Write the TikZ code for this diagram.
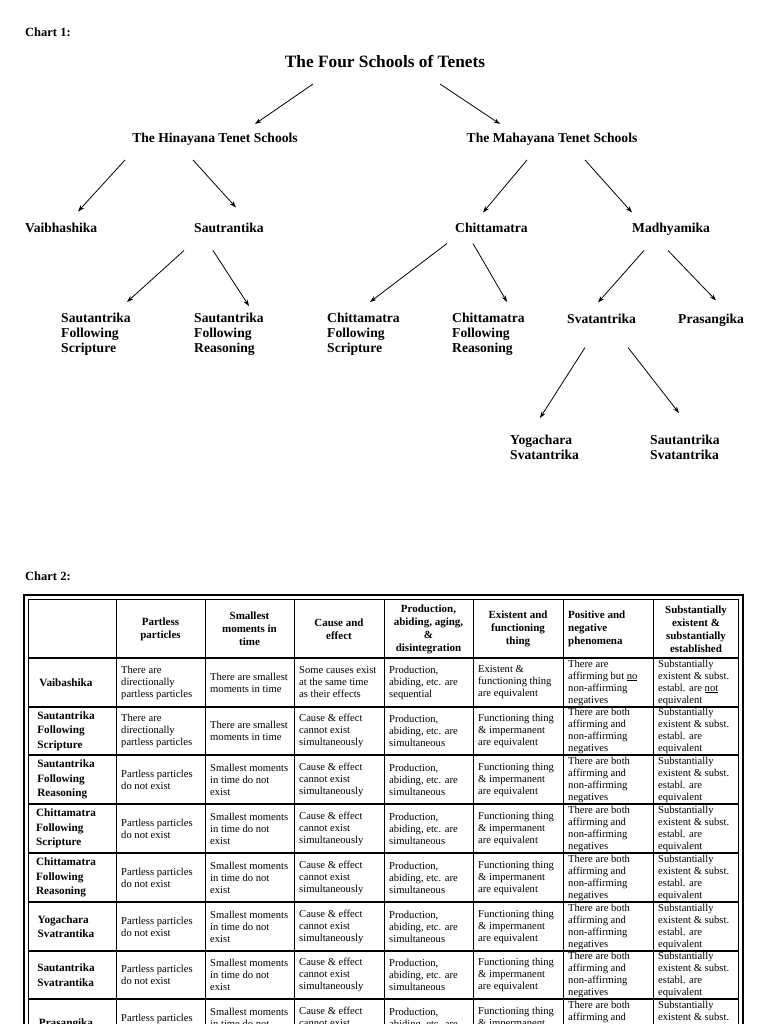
\documentclass[tikz,border=0pt]{standalone}
\usepackage{fontspec}
\setmainfont{Liberation Serif}
\usetikzlibrary{arrows.meta}
\newcommand\txPartA{There are\\directionally\\partless particles}
\newcommand\txPartB{Partless particles\\do not exist}
\newcommand\txTimeA{There are smallest\\moments in time}
\newcommand\txTimeB{Smallest moments\\in time do not\\exist}
\newcommand\txCause{Cause \& effect\\cannot exist\\simultaneously}
\newcommand\txProd{Production,\\abiding, etc. are\\simultaneous}
\newcommand\txFunc{Functioning thing\\\& impermanent\\are equivalent}
\newcommand\txPos{There are both\\affirming and\\non-affirming\\negatives}
\newcommand\txSub{Substantially\\existent \& subst.\\establ. are\\equivalent}
\begin{document}
\begin{tikzpicture}[x=1pt,y=-1pt,
  lab/.style={font=\bfseries\fontsize{13.6}{15}\selectfont, inner sep=0pt, align=left},
  arr/.style={-{Stealth[length=6.5pt,width=4.5pt]}, line width=0.8pt},
  hd/.style={font=\bfseries\fontsize{11}{13}\selectfont, inner sep=0pt, align=center},
  rl/.style={font=\bfseries\fontsize{11.2}{14.5}\selectfont, inner sep=0pt, align=left},
  cell/.style={font=\fontsize{10.6}{12}\selectfont, inner sep=0pt, align=left, anchor=west},
  grid/.style={line width=0.8pt},
  rowline/.style={line width=1.1pt},
]
\useasboundingbox (0,0) rectangle (768,1024);
\clip (0,0) rectangle (768,1024);

% ---------- Chart 1 ----------
\node[font=\bfseries\fontsize{12.5}{14}\selectfont, inner sep=0pt, anchor=base west] (c1) at (25,37) {Chart 1:};
\node[font=\bfseries\fontsize{17.3}{19}\selectfont, inner sep=0pt] (four) at (385,62) {The Four Schools of Tenets};
\node[lab] (hin) at (215,139) {The Hinayana Tenet Schools};
\node[lab] (mah) at (552,139) {The Mahayana Tenet Schools};
\node[lab, anchor=base west] (vai) at (25,232.5) {Vaibhashika};
\node[lab, anchor=base west] (sau) at (194,232.5) {Sautrantika};
\node[lab, anchor=base west] (chit) at (455,232.5) {Chittamatra};
\node[lab, anchor=base west] (madh) at (632,232.5) {Madhyamika};
\node[lab, anchor=west] (sfs) at (61,334) {Sautantrika\\Following\\Scripture};
\node[lab, anchor=west] (sfr) at (194,334) {Sautantrika\\Following\\Reasoning};
\node[lab, anchor=west] (cfs) at (327,334) {Chittamatra\\Following\\Scripture};
\node[lab, anchor=west] (cfr) at (452,334) {Chittamatra\\Following\\Reasoning};
\node[lab, anchor=base west] (svat) at (567,323.5) {Svatantrika};
\node[lab, anchor=base west] (pras) at (678,323.5) {Prasangika};
\node[lab, anchor=west] (ys) at (510,447) {Yogachara\\Svatantrika};
\node[lab, anchor=west] (ss) at (650,447) {Sautantrika\\Svatantrika};

\draw[arr] ([shift={(-72,22)}]four.center) -- ([shift={(40,-15)}]hin.center);
\draw[arr] ([shift={(55,22)}]four.center) -- ([shift={(-52,-15)}]mah.center);
\draw[arr] ([shift={(-90,21)}]hin.center) -- ([shift={(53,-21)}]vai.base west);
\draw[arr] ([shift={(-22,21)}]hin.center) -- ([shift={(42,-25)}]sau.base west);
\draw[arr] ([shift={(-25,21)}]mah.center) -- ([shift={(28,-20)}]chit.base west);
\draw[arr] ([shift={(33,21)}]mah.center) -- ([shift={(0,-20)}]madh.base west);
\draw[arr] ([shift={(-10,18)}]sau.base west) -- ([shift={(66,-32)}]sfs.west);
\draw[arr] ([shift={(19,18)}]sau.base west) -- ([shift={(55,-28)}]sfr.west);
\draw[arr] ([shift={(-8,11)}]chit.base west) -- ([shift={(43,-32)}]cfs.west);
\draw[arr] ([shift={(18,11)}]chit.base west) -- ([shift={(55,-32)}]cfr.west);
\draw[arr] ([shift={(12,18)}]madh.base west) -- ([shift={(31,-21)}]svat.base west);
\draw[arr] ([shift={(36,18)}]madh.base west) -- ([shift={(38,-23)}]pras.base west);
\draw[arr] ([shift={(18,24)}]svat.base west) -- ([shift={(30,-29)}]ys.west);
\draw[arr] ([shift={(61,24)}]svat.base west) -- ([shift={(29,-34)}]ss.west);

% ---------- Chart 2 ----------
\node[font=\bfseries\fontsize{12.5}{14}\selectfont, inner sep=0pt, anchor=base west] (c2) at (25,580) {Chart 2:};

% table frame
\draw[line width=2.2pt] (24,595) rectangle (743,1100);
\draw[line width=0.6pt] (28.5,599.5) rectangle (738.5,1100);
\foreach \x in {116,205,294,384,473,563,653} \draw[grid] (\x,599) -- (\x,1100);
\foreach \y in {658,707,755,804,853,902,951,999} \draw[rowline] (28,\y) -- (739,\y);

% header
\node[hd] (h2) at (160.5,629) {Partless\\particles};
\node[hd] (h3) at (249.5,629) {Smallest\\moments in\\time};
\node[hd] (h4) at (339,629) {Cause and\\effect};
\node[hd] (h5) at (428.5,629) {Production,\\abiding, aging,\\\&\\disintegration};
\node[hd] (h6) at (518,629) {Existent and\\functioning\\thing};
\node[hd, align=left, anchor=west] (h7) at (568,629) {Positive and\\negative\\phenomena};
\node[hd] (h8) at (696,629) {Substantially\\existent \&\\substantially\\established};

% row 1: Vaibashika
\node[rl] (r1) at (66,682.5) {Vaibashika};
\node[cell] (r1c2) at (121,682.5) {\txPartA};
\node[cell] (r1c3) at (210,682.5) {\txTimeA};
\node[cell] (r1c4) at (299,682.5) {Some causes exist\\at the same time\\as their effects};
\node[cell] (r1c5) at (389,682.5) {Production,\\abiding, etc. are\\sequential};
\node[cell] (r1c6) at (478,682.5) {Existent \&\\functioning thing\\are equivalent};
\node[cell] (r1c7) at (568,682.5) {There are\\affirming but \underline{no}\\non-affirming\\negatives};
\node[cell] (r1c8) at (658,682.5) {Substantially\\existent \& subst.\\establ. are \underline{not}\\equivalent};

% row 2: Sautantrika Following Scripture
\node[rl] (r2) at (66,731) {Sautantrika\\Following\\Scripture};
\node[cell] (r2c2) at (121,731) {\txPartA};
\node[cell] (r2c3) at (210,731) {\txTimeA};
\node[cell] (r2c4) at (299,731) {\txCause};
\node[cell] (r2c5) at (389,731) {\txProd};
\node[cell] (r2c6) at (478,731) {\txFunc};
\node[cell] (r2c7) at (568,731) {\txPos};
\node[cell] (r2c8) at (658,731) {\txSub};

% rows 3-8
\foreach \i/\ym/\lbl in {3/779.5/{Sautantrika\\Following\\Reasoning},
                         4/828.5/{Chittamatra\\Following\\Scripture},
                         5/877.5/{Chittamatra\\Following\\Reasoning},
                         6/926.5/{Yogachara\\Svatrantika},
                         7/975/{Sautantrika\\Svatrantika},
                         8/1023.5/{Prasangika}} {
  \node[rl] (r\i) at (66,\ym) {\lbl};
  \node[cell] (r\i c2) at (121,\ym) {\txPartB};
  \node[cell] (r\i c3) at (210,\ym) {\txTimeB};
  \node[cell] (r\i c4) at (299,\ym) {\txCause};
  \node[cell] (r\i c5) at (389,\ym) {\txProd};
  \node[cell] (r\i c6) at (478,\ym) {\txFunc};
  \node[cell] (r\i c7) at (568,\ym) {\txPos};
  \node[cell] (r\i c8) at (658,\ym) {\txSub};
}
\end{tikzpicture}
\end{document}
